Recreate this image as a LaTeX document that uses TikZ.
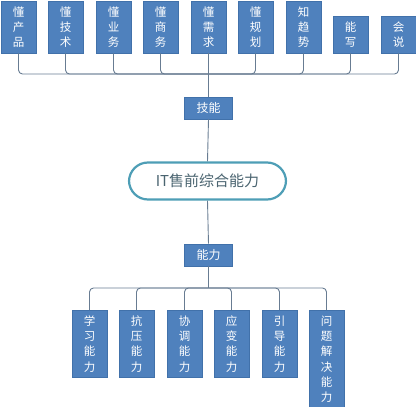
\documentclass[tikz,border=0pt]{standalone}
\usepackage{fontspec}
\newfontfamily\cjk{Noto Sans CJK SC}
\definecolor{boxblue}{RGB}{79,129,189}
\definecolor{boxedge}{RGB}{65,113,170}
\definecolor{conn}{RGB}{104,124,146}
\definecolor{ringc}{RGB}{78,158,182}
\definecolor{ringtxt}{RGB}{74,100,112}
\tikzset{
  bbox/.style={draw=boxedge, line width=0.6pt, fill=boxblue, text=white, inner sep=0pt,
    minimum width=35pt, align=center, font=\cjk\fontsize{11.5}{15.3}\selectfont},
  lab/.style={draw=boxedge, line width=0.6pt, fill=boxblue, text=white, inner sep=0pt,
    minimum width=48pt, minimum height=22pt, font=\cjk\fontsize{12}{14}\selectfont},
  wire/.style={draw=conn, line width=0.9pt, rounded corners=4pt},
}
\begin{document}
\begin{tikzpicture}[x=1pt,y=-1pt]
\useasboundingbox (0,0) rectangle (416,407);
\clip (0,0) rectangle (416,407);
% top boxes
\node[bbox, minimum height=52pt] (t1) at (18.5,27) {懂\\产\\品};
\node[bbox, minimum height=52pt] (t2) at (65.5,27) {懂\\技\\术};
\node[bbox, minimum height=52pt] (t3) at (113.5,27) {懂\\业\\务};
\node[bbox, minimum height=52pt] (t4) at (160.5,27) {懂\\商\\务};
\node[bbox, minimum height=52pt] (t5) at (208.5,27) {懂\\需\\求};
\node[bbox, minimum height=52pt] (t6) at (255.5,27) {懂\\规\\划};
\node[bbox, minimum height=52pt] (t7) at (303.5,27) {知\\趋\\势};
\node[bbox, minimum height=37pt] (t8) at (350.5,34.5) {能\\写};
\node[bbox, minimum height=37pt] (t9) at (398.5,34.5) {会\\说};
\coordinate (hubtop) at (208.5,74);
\foreach \n in {t1,t2,t3,t4,t6,t7,t8,t9}{
  \draw[wire] (\n.south) |- (hubtop);
}
% skill label
\node[lab] (jn) at (208.5,108) {技能};
\draw[wire] (t5.south) -- (jn.north);
% centre
\node[draw=ringc, line width=2.2pt, fill=white, rounded corners=19pt,
  minimum width=157pt, minimum height=37pt, inner sep=0pt, text=ringtxt,
  font=\cjk\fontsize{15}{17}\selectfont] (core) at (207.5,181) {IT售前综合能力};
\draw[wire] (jn.south) -- (core.north);
% ability label
\node[lab] (nl) at (208.5,255) {能力};
\draw[wire] (core.south) -- (nl.north);
\coordinate (hubbot) at (208.5,288);
\draw[wire] (nl.south) -- (hubbot);
% bottom boxes
\node[bbox, minimum height=67pt, anchor=north] (b1) at (89.5,310) {学\\习\\能\\力};
\node[bbox, minimum height=67pt, anchor=north] (b2) at (136.5,310) {抗\\压\\能\\力};
\node[bbox, minimum height=67pt, anchor=north] (b3) at (184.5,310) {协\\调\\能\\力};
\node[bbox, minimum height=67pt, anchor=north] (b4) at (231.5,310) {应\\变\\能\\力};
\node[bbox, minimum height=67pt, anchor=north] (b5) at (279.5,310) {引\\导\\能\\力};
\node[bbox, minimum height=98pt, anchor=north] (b6) at (326.5,310) {问\\题\\解\\决\\能\\力};
\foreach \n in {b1,b2,b3,b4,b5,b6}{
  \draw[wire] (hubbot) -| (\n.north);
}
\end{tikzpicture}
\end{document}
